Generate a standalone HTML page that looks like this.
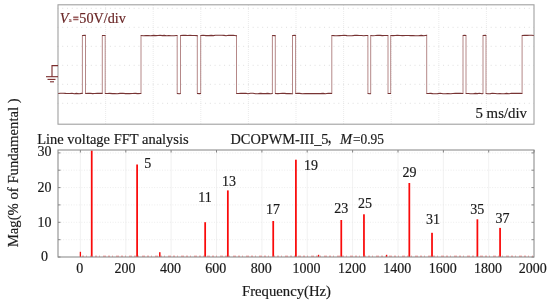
<!DOCTYPE html>
<html><head><meta charset="utf-8"><style>
html,body{margin:0;padding:0;background:#fff;width:550px;height:304px;overflow:hidden}
svg{display:block}
text{font-family:"Liberation Serif","Noto Serif CJK SC",serif;}
</style></head><body>
<svg width="550" height="304" viewBox="0 0 550 304">
<rect width="550" height="304" fill="#fff"/>
<g stroke="#dedede" stroke-width="1" stroke-dasharray="1 3.76"><line x1="57.5" y1="8.3" x2="534" y2="8.3" /><line x1="57.5" y1="27.3" x2="534" y2="27.3" /><line x1="57.5" y1="46.3" x2="534" y2="46.3" /><line x1="57.5" y1="65.3" x2="534" y2="65.3" /><line x1="57.5" y1="84.3" x2="534" y2="84.3" /><line x1="57.5" y1="103.3" x2="534" y2="103.3" /></g>
<g stroke="#e6e6e6" stroke-width="0.8" stroke-dasharray="1 1"><line x1="105.6" y1="5" x2="105.6" y2="124" /><line x1="153.2" y1="5" x2="153.2" y2="124" /><line x1="200.8" y1="5" x2="200.8" y2="124" /><line x1="248.4" y1="5" x2="248.4" y2="124" /><line x1="296.0" y1="5" x2="296.0" y2="124" /><line x1="343.6" y1="5" x2="343.6" y2="124" /><line x1="391.2" y1="5" x2="391.2" y2="124" /><line x1="438.8" y1="5" x2="438.8" y2="124" /><line x1="486.4" y1="5" x2="486.4" y2="124" /></g>
<rect x="58" y="4.8" width="476" height="119.4" fill="none" stroke="#a0a0a0" stroke-width="1.1"/>
<path d="M82.4 35.5V93.5M85.5 35.5V93.5M102.3 35.5V93.5M105.2 35.5V93.5M141.0 35.5V93.5M177.2 35.5V93.5M180.5 35.5V93.5M197.3 35.5V93.5M200.7 35.5V93.5M236.5 35.5V93.5M272.4 35.5V93.5M275.3 35.5V93.5M292.5 35.5V93.5M295.6 35.5V93.5M331.8 35.5V93.5M367.9 35.5V93.5M370.7 35.5V93.5M388 35.5V93.5M390.7 35.5V93.5M426.7 35.5V93.5M463 35.5V93.5M466 35.5V93.5M483 35.5V93.5M486 35.5V93.5M522.1 35.5V93.5" fill="none" stroke="#ad7a7a" stroke-width="0.9"/>
<path d="M58.2 93.5L60.5 93.29L63.2 93.24L65.7 93.42L67.8 93.50L69.8 93.46L71.9 93.25L74.3 93.70L76.4 93.33L79.1 93.77L81.6 93.44L82.7 93.5M82.1 35.5L85.1 35.23L85.8 35.5M85.2 93.5L88.1 93.37L90.2 93.27L92.5 93.69L94.7 93.55L97.3 93.42L99.9 93.24L101.9 93.32L102.6 93.5M102.0 35.5L104.7 35.46L105.5 35.5M104.9 93.5L107.2 93.55L109.7 93.38L112.5 93.62L114.7 93.54L117.2 93.73L120.0 93.37L122.9 93.27L125.4 93.65L127.5 93.49L129.5 93.60L132.3 93.54L135.2 93.39L137.9 93.56L140.5 93.47L141.3 93.5M140.7 35.5L143.5 35.77L146.0 35.60L148.1 35.62L150.7 35.80L153.5 35.37L155.9 35.60L158.0 35.48L160.1 35.27L162.2 35.66L164.3 35.35L166.7 35.72L168.8 35.47L171.3 35.73L174.1 35.72L176.4 35.45L177.5 35.5M176.9 93.5L179.3 93.73L180.8 93.5M180.2 35.5L183.2 35.29L185.3 35.34L187.6 35.49L190.2 35.36L192.2 35.45L194.5 35.54L197.5 35.61L197.6 35.5M197.0 93.5L199.5 93.57L201.0 93.5M200.4 35.5L203.1 35.23L206.0 35.67L208.9 35.68L211.2 35.44L213.3 35.58L215.4 35.24L217.6 35.30L220.0 35.23L222.0 35.29L224.1 35.42L226.1 35.72L228.7 35.29L231.0 35.41L233.3 35.27L236.2 35.80L236.8 35.5M236.2 93.5L238.7 93.49L240.8 93.26L243.1 93.36L245.9 93.30L247.9 93.77L250.5 93.29L253.0 93.22L255.5 93.79L258.4 93.62L260.7 93.42L262.8 93.66L265.4 93.67L267.7 93.33L270.5 93.79L272.7 93.5M272.1 35.5L275.0 35.68L275.6 35.5M275.0 93.5L277.8 93.64L280.0 93.51L282.4 93.22L284.4 93.37L286.7 93.62L289.6 93.47L292.6 93.79L292.8 93.5M292.2 35.5L295.2 35.42L295.9 35.5M295.3 93.5L297.5 93.34L299.7 93.32L302.3 93.74L305.2 93.49L307.8 93.68L309.9 93.60L312.8 93.67L315.6 93.49L317.8 93.67L320.1 93.68L323.1 93.44L325.5 93.77L328.2 93.30L330.3 93.29L332.1 93.5M331.5 35.5L334.4 35.68L336.6 35.70L339.5 35.59L341.9 35.53L344.0 35.21L347.0 35.59L349.5 35.76L351.9 35.72L354.8 35.33L357.0 35.38L359.3 35.55L361.5 35.45L363.7 35.75L366.0 35.47L368.2 35.5M367.6 93.5L370.2 93.74L371.0 93.5M370.4 35.5L372.8 35.75L375.3 35.52L377.8 35.21L380.3 35.31L382.3 35.68L384.5 35.48L387.2 35.53L388.3 35.5M387.7 93.5L390.0 93.51L391.0 93.5M390.4 35.5L393.0 35.67L395.1 35.54L397.3 35.37L400.1 35.50L402.6 35.66L405.6 35.47L408.2 35.50L410.7 35.62L413.1 35.52L415.6 35.76L418.3 35.73L421.3 35.36L423.8 35.77L426.7 35.28L427.0 35.5M426.4 93.5L428.5 93.47L430.6 93.34L432.7 93.60L435.5 93.74L437.6 93.63L440.3 93.29L443.1 93.78L445.4 93.77L447.8 93.49L450.8 93.70L452.9 93.46L455.4 93.40L457.6 93.39L460.4 93.21L462.9 93.46L463.3 93.5M462.7 35.5L464.7 35.40L466.3 35.5M465.7 93.5L468.3 93.51L470.4 93.79L473.2 93.78L475.3 93.36L477.3 93.67L479.6 93.28L482.0 93.75L483.3 93.5M482.7 35.5L485.5 35.36L486.3 35.5M485.7 93.5L487.8 93.75L490.4 93.62L492.5 93.23L495.2 93.46L497.3 93.76L499.9 93.68L502.0 93.71L504.1 93.72L506.5 93.40L509.1 93.76L511.3 93.28L513.9 93.34L516.0 93.30L518.0 93.32L520.3 93.38L522.4 93.5M521.8 35.5L524.6 35.37L527.1 35.31L529.4 35.21L531.7 35.21L533.8 35.5" fill="none" stroke="#783434" stroke-width="1.15" stroke-linejoin="round"/>
<g stroke="#7a2c2c" stroke-width="1.1" fill="none">
<path d="M58 65.6 H52 V76.7"/><line x1="46" y1="76.7" x2="58" y2="76.7"/><line x1="47.5" y1="79.4" x2="55.5" y2="79.4"/><line x1="50" y1="81.8" x2="54" y2="81.8"/>
</g>
<g fill="#6a2626" stroke="#6a2626" stroke-width="0.18" font-size="14.5"><text x="59.8" y="22.6" font-style="italic">V</text><text x="68.8" y="22.2" font-size="6.5" fill="#8a4a4a" stroke="#8a4a4a" stroke-width="0.2">a</text><text transform="translate(73.2,21.7) scale(1,0.85)" font-size="12" fill="#9a5c5c" stroke="#9a5c5c" stroke-width="1.2" textLength="5.2" lengthAdjust="spacingAndGlyphs">=</text><text x="79.3" y="22.6" textLength="46.5" lengthAdjust="spacingAndGlyphs">50V/div</text></g>
<text x="475.5" y="117.6" fill="#1a1a1a" stroke="#1a1a1a" stroke-width="0.18" font-size="14" textLength="51.5" lengthAdjust="spacingAndGlyphs">5 ms/div</text>
<text x="37.2" y="143.5" font-size="14.5" fill="#1a1a1a" stroke="#1a1a1a" stroke-width="0.18" textLength="151.5" lengthAdjust="spacingAndGlyphs">Line voltage FFT analysis</text>
<g font-size="14.5" fill="#1a1a1a" stroke="#1a1a1a" stroke-width="0.18"><text x="230.5" y="143.8" textLength="98" lengthAdjust="spacingAndGlyphs">DCOPWM-III_5</text><text x="327.2" y="141.8" font-family="Noto Serif CJK SC">，</text><text x="340" y="143.8" font-style="italic">M</text><text x="353" y="143.8" textLength="31" lengthAdjust="spacingAndGlyphs">=0.95</text></g>
<g stroke="#ededed" stroke-width="0.8"><line x1="80.4" y1="150" x2="80.4" y2="257" /><line x1="125.8" y1="150" x2="125.8" y2="257" /><line x1="171.1" y1="150" x2="171.1" y2="257" /><line x1="216.5" y1="150" x2="216.5" y2="257" /><line x1="261.9" y1="150" x2="261.9" y2="257" /><line x1="307.2" y1="150" x2="307.2" y2="257" /><line x1="352.6" y1="150" x2="352.6" y2="257" /><line x1="398.0" y1="150" x2="398.0" y2="257" /><line x1="443.4" y1="150" x2="443.4" y2="257" /><line x1="488.7" y1="150" x2="488.7" y2="257" /></g>
<g stroke="#e8e8e8" stroke-width="0.8" stroke-dasharray="1 1.6"><line x1="58" y1="239.7" x2="534" y2="239.7" /><line x1="58" y1="222.3" x2="534" y2="222.3" /><line x1="58" y1="204.9" x2="534" y2="204.9" /><line x1="58" y1="187.6" x2="534" y2="187.6" /><line x1="58" y1="170.2" x2="534" y2="170.2" /><line x1="58" y1="152.9" x2="534" y2="152.9" /></g>
<g stroke="#666" stroke-width="0.8"><line x1="80.4" y1="150" x2="80.4" y2="152.5" /><line x1="125.8" y1="150" x2="125.8" y2="152.5" /><line x1="171.1" y1="150" x2="171.1" y2="152.5" /><line x1="216.5" y1="150" x2="216.5" y2="152.5" /><line x1="261.9" y1="150" x2="261.9" y2="152.5" /><line x1="307.2" y1="150" x2="307.2" y2="152.5" /><line x1="352.6" y1="150" x2="352.6" y2="152.5" /><line x1="398.0" y1="150" x2="398.0" y2="152.5" /><line x1="443.4" y1="150" x2="443.4" y2="152.5" /><line x1="488.7" y1="150" x2="488.7" y2="152.5" /><line x1="534.1" y1="150" x2="534.1" y2="152.5" /><line x1="58" y1="257.0" x2="60.5" y2="257.0" /><line x1="534" y1="257.0" x2="531.5" y2="257.0" /><line x1="58" y1="239.7" x2="60.5" y2="239.7" /><line x1="534" y1="239.7" x2="531.5" y2="239.7" /><line x1="58" y1="222.3" x2="60.5" y2="222.3" /><line x1="534" y1="222.3" x2="531.5" y2="222.3" /><line x1="58" y1="204.9" x2="60.5" y2="204.9" /><line x1="534" y1="204.9" x2="531.5" y2="204.9" /><line x1="58" y1="187.6" x2="60.5" y2="187.6" /><line x1="534" y1="187.6" x2="531.5" y2="187.6" /><line x1="58" y1="170.2" x2="60.5" y2="170.2" /><line x1="534" y1="170.2" x2="531.5" y2="170.2" /><line x1="58" y1="152.9" x2="60.5" y2="152.9" /><line x1="534" y1="152.9" x2="531.5" y2="152.9" /></g>
<g fill="#fa0a0a"><rect x="79.74" y="251.8" width="1.3" height="5.2" /><rect x="90.85" y="150.5" width="1.75" height="106.5" /><rect x="136.23" y="164.5" width="1.75" height="92.5" /><rect x="159.04" y="252.2" width="1.5" height="4.8" /><rect x="317.94" y="254.8" width="1.3" height="2.2" /><rect x="385.99" y="254.8" width="1.3" height="2.2" /><rect x="204.28" y="222.2" width="1.75" height="34.8" /><rect x="226.97" y="190.4" width="1.75" height="66.6" /><rect x="272.34" y="221.0" width="1.75" height="36.0" /><rect x="295.03" y="159.7" width="1.75" height="97.3" /><rect x="340.40" y="220.0" width="1.75" height="37.0" /><rect x="363.08" y="214.3" width="1.75" height="42.7" /><rect x="408.45" y="183.0" width="1.75" height="74.0" /><rect x="431.14" y="232.8" width="1.75" height="24.2" /><rect x="476.51" y="219.3" width="1.75" height="37.7" /><rect x="499.20" y="227.9" width="1.75" height="29.1" /></g>
<line x1="82" y1="256.2" x2="533" y2="256.2" stroke="#f06060" stroke-width="0.8" stroke-dasharray="2 2 1 3 3 2"/>
<rect x="58" y="150" width="476" height="107" fill="none" stroke="#8a8a8a" stroke-width="1.05"/>
<g font-size="14" fill="#1a1a1a" stroke="#1a1a1a" stroke-width="0.18"><text x="147.7" y="168.0" text-anchor="middle">5</text><text x="205.0" y="201.6" text-anchor="middle">11</text><text x="229.1" y="185.5" text-anchor="middle">13</text><text x="273.0" y="214.2" text-anchor="middle">17</text><text x="310.9" y="169.5" text-anchor="middle">19</text><text x="341.2" y="213.4" text-anchor="middle">23</text><text x="365.1" y="207.5" text-anchor="middle">25</text><text x="409.4" y="176.5" text-anchor="middle">29</text><text x="433.0" y="224.1" text-anchor="middle">31</text><text x="477.3" y="213.6" text-anchor="middle">35</text><text x="502.6" y="222.7" text-anchor="middle">37</text><text x="79.7" y="273" text-anchor="middle">0</text><text x="125.1" y="273" text-anchor="middle">200</text><text x="170.4" y="273" text-anchor="middle">400</text><text x="215.8" y="273" text-anchor="middle">600</text><text x="261.2" y="273" text-anchor="middle">800</text><text x="306.5" y="273" text-anchor="middle">1000</text><text x="351.9" y="273" text-anchor="middle">1200</text><text x="397.3" y="273" text-anchor="middle">1400</text><text x="442.7" y="273" text-anchor="middle">1600</text><text x="488.0" y="273" text-anchor="middle">1800</text><text x="532.8" y="273" text-anchor="middle">2000</text><text x="44.4" y="261.0" text-anchor="middle">0</text><text x="44.4" y="226.5" text-anchor="middle">10</text><text x="44.4" y="192.0" text-anchor="middle">20</text><text x="44.4" y="156.2" text-anchor="middle">30</text></g>
<text x="242" y="295.6" font-size="14.5" fill="#1a1a1a" stroke="#1a1a1a" stroke-width="0.18" textLength="89" lengthAdjust="spacingAndGlyphs">Frequency(Hz)</text>
<text transform="translate(17.8,247.3) rotate(-90)" font-size="14.5" fill="#1a1a1a" stroke="#1a1a1a" stroke-width="0.18" textLength="149" lengthAdjust="spacingAndGlyphs">Mag(% of Fundamental )</text>
</svg>
</body></html>
